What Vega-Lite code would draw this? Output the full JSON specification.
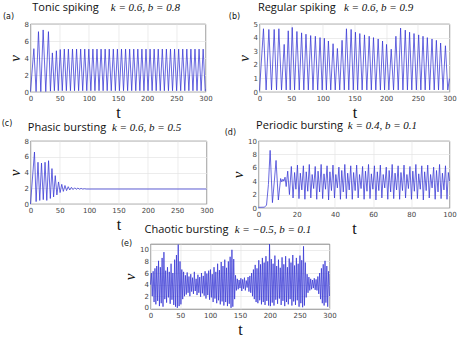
{
"$schema": "https://vega.github.io/schema/vega-lite/v6.json",
"padding": {"left": 1, "top": 1, "right": 0, "bottom": 0},
"config": {
 "view": {"stroke": "#555", "strokeWidth": 0.7},
 "style": {"guide-title": {"font": "Liberation Serif", "fontWeight": "normal", "fill": "#111"}},
 "axis": {"labelFont": "DejaVu Sans", "labelFontSize": 7, "labelColor": "#444", "gridColor": "#e4e4e4", "gridWidth": 0.7, "domain": false, "ticks": false, "labelPadding": 2, "labelFlush": false, "labelOverlap": false, "titleFont": "Liberation Serif", "titleFontWeight": "normal", "titleColor": "#111"},
 "axisX": {"titleFontSize": 16, "titlePadding": 3},
 "axisY": {"titleFontSize": 15, "titleFontStyle": "italic", "titlePadding": 2},
 "line": {"color": "#3636d4", "strokeWidth": 0.75},
 "text": {"align": "center", "baseline": "middle"}
},
"datasets": {
 "a": [{"t":0,"v":0.05},{"t":5.8,"v":5.1},{"t":9.6,"v":0.05},{"t":13.7,"v":7.1},{"t":17.7,"v":0.05},{"t":21.7,"v":7.3},{"t":26.2,"v":0.05},{"t":30.8,"v":7.1},{"t":34.2,"v":0.1},{"t":37.5,"v":4.6},{"t":41,"v":0.15},{"t":44.4,"v":4.85},{"t":47.7,"v":0.15},{"t":51,"v":5.0},{"t":54.5,"v":0.15},{"t":58,"v":5.05},{"t":61.5,"v":0.15},{"t":65,"v":5.05},{"t":68.5,"v":0.15},{"t":72,"v":5.05},{"t":75.5,"v":0.15},{"t":79,"v":5.05},{"t":82.5,"v":0.15},{"t":86,"v":5.05},{"t":89.5,"v":0.15},{"t":93,"v":5.05},{"t":96.5,"v":0.15},{"t":100,"v":5.05},{"t":103.5,"v":0.15},{"t":107,"v":5.05},{"t":110.5,"v":0.15},{"t":114,"v":5.05},{"t":117.5,"v":0.15},{"t":121,"v":5.05},{"t":124.5,"v":0.15},{"t":128,"v":5.05},{"t":131.5,"v":0.15},{"t":135,"v":5.05},{"t":138.5,"v":0.15},{"t":142,"v":5.05},{"t":145.5,"v":0.15},{"t":149,"v":5.05},{"t":152.5,"v":0.15},{"t":156,"v":5.05},{"t":159.5,"v":0.15},{"t":163,"v":5.05},{"t":166.5,"v":0.15},{"t":170,"v":5.05},{"t":173.5,"v":0.15},{"t":177,"v":5.05},{"t":180.5,"v":0.15},{"t":184,"v":5.05},{"t":187.5,"v":0.15},{"t":191,"v":5.05},{"t":194.5,"v":0.15},{"t":198,"v":5.05},{"t":201.5,"v":0.15},{"t":205,"v":5.05},{"t":208.5,"v":0.15},{"t":212,"v":5.05},{"t":215.5,"v":0.15},{"t":219,"v":5.05},{"t":222.5,"v":0.15},{"t":226,"v":5.05},{"t":229.5,"v":0.15},{"t":233,"v":5.05},{"t":236.5,"v":0.15},{"t":240,"v":5.05},{"t":243.5,"v":0.15},{"t":247,"v":5.05},{"t":250.5,"v":0.15},{"t":254,"v":5.05},{"t":257.5,"v":0.15},{"t":261,"v":5.05},{"t":264.5,"v":0.15},{"t":268,"v":5.05},{"t":271.5,"v":0.15},{"t":275,"v":5.05},{"t":278.5,"v":0.15},{"t":282,"v":5.05},{"t":285.5,"v":0.15},{"t":289,"v":5.05},{"t":292.5,"v":0.15},{"t":296,"v":5.05},{"t":299.5,"v":0.15},{"t":300,"v":0.3}],
 "b": [{"t":0,"v":0.1},{"t":6.3,"v":4.65},{"t":10.5,"v":0.15},{"t":14.8,"v":4.6},{"t":19,"v":0.15},{"t":23.2,"v":4.6},{"t":26.9,"v":0.15},{"t":30.6,"v":4.65},{"t":34.8,"v":0.15},{"t":39,"v":3.5},{"t":42.2,"v":0.15},{"t":45.4,"v":4.5},{"t":48.5,"v":0.15},{"t":51.7,"v":4.75},{"t":55.4,"v":0.15},{"t":59.1,"v":4.45},{"t":62.8,"v":0.15},{"t":66.5,"v":4.35},{"t":70,"v":0.15},{"t":73.4,"v":4.25},{"t":77.1,"v":0.15},{"t":80.8,"v":4.15},{"t":84.5,"v":0.15},{"t":88.2,"v":4.1},{"t":91.9,"v":0.15},{"t":95.6,"v":4.0},{"t":99,"v":0.15},{"t":102.4,"v":3.95},{"t":105.6,"v":0.15},{"t":108.8,"v":3.75},{"t":112.5,"v":0.15},{"t":116.2,"v":3.55},{"t":119.6,"v":0.15},{"t":123,"v":3.2},{"t":126.7,"v":0.15},{"t":130.4,"v":3.8},{"t":133.9,"v":0.15},{"t":137.3,"v":4.65},{"t":141,"v":0.15},{"t":144.7,"v":4.6},{"t":148.1,"v":0.15},{"t":151.5,"v":4.4},{"t":155,"v":0.15},{"t":158.4,"v":4.3},{"t":162.1,"v":0.15},{"t":165.8,"v":4.2},{"t":169.5,"v":0.15},{"t":173.2,"v":4.1},{"t":176.6,"v":0.15},{"t":180,"v":4.0},{"t":183.7,"v":0.15},{"t":187.4,"v":3.9},{"t":190.9,"v":0.15},{"t":194.3,"v":3.75},{"t":197.5,"v":0.15},{"t":200.6,"v":3.5},{"t":204.3,"v":0.15},{"t":208,"v":3.15},{"t":211.7,"v":0.15},{"t":215.4,"v":4.1},{"t":219.1,"v":0.15},{"t":222.8,"v":4.7},{"t":226.5,"v":0.15},{"t":230.2,"v":4.55},{"t":233.6,"v":0.15},{"t":237,"v":4.4},{"t":240.5,"v":0.15},{"t":244,"v":4.3},{"t":247.7,"v":0.15},{"t":251.3,"v":4.2},{"t":254.8,"v":0.15},{"t":258.2,"v":4.1},{"t":261.6,"v":0.15},{"t":265,"v":4.0},{"t":268.7,"v":0.15},{"t":272.4,"v":3.9},{"t":275.9,"v":0.15},{"t":279.3,"v":3.8},{"t":282.7,"v":0.15},{"t":286,"v":3.6},{"t":289.8,"v":0.15},{"t":293.6,"v":3.4},{"t":297.3,"v":0.15},{"t":300,"v":1.0}],
 "c": [{"t":0,"v":0},{"t":6.8,"v":6.6},{"t":9.6,"v":0.3},{"t":12.8,"v":5.3},{"t":15.8,"v":0.45},{"t":18.8,"v":5.2},{"t":21.8,"v":0.55},{"t":24.8,"v":5.3},{"t":27.8,"v":0.45},{"t":30.8,"v":5.5},{"t":33.8,"v":0.7},{"t":36.6,"v":4.5},{"t":39.4,"v":0.9},{"t":42.2,"v":3.6},{"t":45,"v":1.15},{"t":47.8,"v":2.8},{"t":50.5,"v":1.45},{"t":53.3,"v":2.5},{"t":56,"v":1.6},{"t":58.8,"v":2.35},{"t":61.5,"v":1.7},{"t":64.3,"v":2.2},{"t":67,"v":1.78},{"t":69.8,"v":2.12},{"t":72.5,"v":1.83},{"t":75.3,"v":2.06},{"t":78,"v":1.86},{"t":80.8,"v":2.02},{"t":83.5,"v":1.88},{"t":86.3,"v":1.98},{"t":89,"v":1.89},{"t":92,"v":1.94},{"t":95,"v":1.9},{"t":300,"v":1.9}],
 "d": [{"t":0,"v":0.1},{"t":3,"v":0.12},{"t":4.2,"v":0.4},{"t":5.2,"v":3.5},{"t":6.1,"v":8.6},{"t":7.3,"v":0.8},{"t":8.3,"v":4.0},{"t":9.2,"v":7.1},{"t":10.4,"v":1.2},{"t":11.6,"v":4.4},{"t":12.2,"v":3.9},{"t":12.8,"v":4.3},{"t":13.3,"v":4.0},{"t":13.9,"v":4.6},{"t":14.5,"v":3.2},{"t":15.3,"v":5.5},{"t":16.2,"v":2.0},{"t":17.2,"v":6.2},{"t":18.1,"v":1.5},{"t":18.9,"v":5.3},{"t":19.6,"v":2.8},
  {"t":20.4,"v":6.4},{"t":21.2,"v":1.4},{"t":21.9,"v":5.2},{"t":22.7,"v":2.7},
  {"t":23.5,"v":6.3},{"t":24.3,"v":1.3},{"t":25.0,"v":5.4},{"t":25.8,"v":2.5},
  {"t":26.6,"v":6.5},{"t":27.4,"v":1.5},{"t":28.1,"v":5.0},{"t":28.9,"v":2.9},
  {"t":29.7,"v":6.2},{"t":30.5,"v":1.3},{"t":31.2,"v":5.5},{"t":32.0,"v":2.4},
  {"t":32.8,"v":6.5},{"t":33.6,"v":1.4},{"t":34.3,"v":5.1},{"t":35.1,"v":2.8},
  {"t":35.9,"v":6.3},{"t":36.7,"v":1.2},{"t":37.4,"v":5.4},{"t":38.2,"v":2.6},
  {"t":39.0,"v":6.4},{"t":39.8,"v":1.5},{"t":40.5,"v":5.0},{"t":41.3,"v":3.0},
  {"t":42.1,"v":6.1},{"t":42.9,"v":1.3},{"t":43.6,"v":5.6},{"t":44.4,"v":2.4},
  {"t":45.2,"v":6.5},{"t":46.0,"v":1.4},{"t":46.7,"v":5.2},{"t":47.5,"v":2.7},
  {"t":48.3,"v":6.3},{"t":49.1,"v":1.3},{"t":49.8,"v":5.3},{"t":50.6,"v":2.6},
  {"t":51.4,"v":6.4},{"t":52.2,"v":1.5},{"t":52.9,"v":5.0},{"t":53.7,"v":2.9},
  {"t":54.5,"v":6.2},{"t":55.3,"v":1.3},{"t":56.0,"v":5.5},{"t":56.8,"v":2.5},
  {"t":57.6,"v":6.5},{"t":58.4,"v":1.4},{"t":59.1,"v":5.1},{"t":59.9,"v":2.8},
  {"t":60.7,"v":6.3},{"t":61.5,"v":1.2},{"t":62.2,"v":5.4},{"t":63.0,"v":2.6},
  {"t":63.8,"v":6.4},{"t":64.6,"v":1.5},{"t":65.3,"v":5.0},{"t":66.1,"v":3.0},
  {"t":66.9,"v":6.1},{"t":67.7,"v":1.3},{"t":68.4,"v":5.6},{"t":69.2,"v":2.4},
  {"t":70.0,"v":6.5},{"t":70.8,"v":1.4},{"t":71.5,"v":5.2},{"t":72.3,"v":2.7},
  {"t":73.1,"v":6.3},{"t":73.9,"v":1.3},{"t":74.6,"v":5.3},{"t":75.4,"v":2.6},
  {"t":76.2,"v":6.4},{"t":77.0,"v":1.5},{"t":77.7,"v":5.0},{"t":78.5,"v":2.9},
  {"t":79.3,"v":6.2},{"t":80.1,"v":1.3},{"t":80.8,"v":5.5},{"t":81.6,"v":2.5},
  {"t":82.4,"v":6.5},{"t":83.2,"v":1.4},{"t":83.9,"v":5.1},{"t":84.7,"v":2.8},
  {"t":85.5,"v":6.3},{"t":86.3,"v":1.2},{"t":87.0,"v":5.4},{"t":87.8,"v":2.6},
  {"t":88.6,"v":6.4},{"t":89.4,"v":1.5},{"t":90.1,"v":5.0},{"t":90.9,"v":3.0},
  {"t":91.7,"v":6.1},{"t":92.5,"v":1.3},{"t":93.2,"v":5.6},{"t":94.0,"v":2.4},
  {"t":94.8,"v":6.5},{"t":95.6,"v":1.4},{"t":96.3,"v":5.2},{"t":97.1,"v":2.7},
  {"t":97.9,"v":6.3},{"t":98.7,"v":1.3},{"t":99.4,"v":5.3},{"t":100,"v":4.0}],
 "e": [{"t":0,"v":4.0},{"t":1.5,"v":6.0},{"t":3,"v":2.0},{"t":4.5,"v":6.3},{"t":6,"v":1.0},{"t":7.5,"v":6.8},{"t":9,"v":0.6},{"t":10.5,"v":7.2},{"t":12,"v":1.2},{"t":13.5,"v":8.1},{"t":15,"v":0.3},{"t":16.5,"v":7.0},{"t":18,"v":0.8},{"t":19.5,"v":8.6},{"t":21,"v":0.2},{"t":22.5,"v":9.6},{"t":24,"v":1.5},{"t":25.5,"v":6.4},{"t":27,"v":0.9},{"t":28.5,"v":7.0},{"t":30,"v":1.8},{"t":31.5,"v":6.2},{"t":33,"v":0.7},{"t":34.5,"v":7.6},{"t":36,"v":1.4},{"t":37.5,"v":6.0},{"t":39,"v":0.5},{"t":40.5,"v":8.3},{"t":42,"v":0.2},{"t":43.5,"v":9.1},{"t":45,"v":0.0},{"t":46.5,"v":10.9},{"t":48,"v":0.3},{"t":49.5,"v":8.0},{"t":51,"v":0.6},{"t":52.5,"v":6.6},{"t":54,"v":1.5},{"t":55.5,"v":6.2},{"t":57,"v":2.0},{"t":58.5,"v":5.6},{"t":60,"v":2.3},{"t":61.5,"v":6.1},{"t":63,"v":2.6},{"t":64.5,"v":5.4},{"t":66,"v":2.0},{"t":67.5,"v":5.8},{"t":69,"v":2.8},{"t":70.5,"v":5.2},{"t":72,"v":2.4},{"t":73.5,"v":6.2},{"t":75,"v":2.9},{"t":76.5,"v":5.0},{"t":78,"v":2.2},{"t":79.5,"v":5.7},{"t":81,"v":2.6},{"t":82.5,"v":5.3},{"t":84,"v":1.9},{"t":85.5,"v":6.0},{"t":87,"v":2.5},{"t":88.5,"v":5.5},{"t":90,"v":2.1},{"t":91.5,"v":6.3},{"t":93,"v":1.6},{"t":94.5,"v":5.9},{"t":96,"v":2.2},{"t":97.5,"v":6.4},{"t":99,"v":1.4},{"t":100.5,"v":6.6},{"t":102,"v":1.8},{"t":103.5,"v":5.8},{"t":105,"v":1.0},{"t":106.5,"v":7.0},{"t":108,"v":1.6},{"t":109.5,"v":6.2},{"t":111,"v":0.8},{"t":112.5,"v":7.6},{"t":114,"v":1.3},{"t":115.5,"v":6.5},{"t":117,"v":0.6},{"t":118.5,"v":7.9},{"t":120,"v":1.1},{"t":121.5,"v":7.2},{"t":123,"v":0.4},{"t":124.5,"v":8.3},{"t":126,"v":1.0},{"t":127.5,"v":6.9},{"t":129,"v":0.3},{"t":130.5,"v":8.0},{"t":132,"v":0.7},{"t":133.5,"v":8.8},{"t":135,"v":0.0},{"t":136.5,"v":10.0},{"t":138,"v":0.2},{"t":139.5,"v":8.4},{"t":141,"v":1.5},{"t":142.5,"v":5.6},{"t":144,"v":3.0},{"t":145.5,"v":5.0},{"t":147,"v":3.2},{"t":148.5,"v":4.8},{"t":150,"v":3.4},{"t":151.5,"v":5.1},{"t":153,"v":2.9},{"t":154.5,"v":4.9},{"t":156,"v":3.3},{"t":157.5,"v":5.2},{"t":159,"v":3.0},{"t":160.5,"v":4.7},{"t":162,"v":3.5},{"t":163.5,"v":5.3},{"t":165,"v":2.8},{"t":166.5,"v":5.5},{"t":168,"v":2.6},{"t":169.5,"v":6.0},{"t":171,"v":2.0},{"t":172.5,"v":6.6},{"t":174,"v":1.5},{"t":175.5,"v":7.4},{"t":177,"v":1.0},{"t":178.5,"v":6.8},{"t":180,"v":0.8},{"t":181.5,"v":8.2},{"t":183,"v":1.3},{"t":184.5,"v":7.5},{"t":186,"v":0.6},{"t":187.5,"v":8.6},{"t":189,"v":1.0},{"t":190.5,"v":7.8},{"t":192,"v":0.5},{"t":193.5,"v":8.9},{"t":195,"v":1.2},{"t":196.5,"v":8.0},{"t":198,"v":0.4},{"t":199.5,"v":11.0},{"t":201,"v":0.3},{"t":202.5,"v":8.4},{"t":204,"v":0.9},{"t":205.5,"v":7.6},{"t":207,"v":0.4},{"t":208.5,"v":9.0},{"t":210,"v":1.4},{"t":211.5,"v":7.2},{"t":213,"v":0.7},{"t":214.5,"v":8.3},{"t":216,"v":1.6},{"t":217.5,"v":6.9},{"t":219,"v":0.5},{"t":220.5,"v":8.7},{"t":222,"v":1.2},{"t":223.5,"v":7.5},{"t":225,"v":0.3},{"t":226.5,"v":8.9},{"t":228,"v":1.0},{"t":229.5,"v":7.0},{"t":231,"v":0.6},{"t":232.5,"v":8.5},{"t":234,"v":1.5},{"t":235.5,"v":7.8},{"t":237,"v":0.4},{"t":238.5,"v":9.1},{"t":240,"v":1.1},{"t":241.5,"v":7.3},{"t":243,"v":0.5},{"t":244.5,"v":8.6},{"t":246,"v":1.3},{"t":247.5,"v":7.6},{"t":249,"v":0.2},{"t":250.5,"v":9.0},{"t":252,"v":0.8},{"t":253.5,"v":8.2},{"t":255,"v":0.1},{"t":256.5,"v":10.6},{"t":258,"v":0.4},{"t":259.5,"v":7.8},{"t":261,"v":1.8},{"t":262.5,"v":5.8},{"t":264,"v":2.6},{"t":265.5,"v":5.3},{"t":267,"v":3.0},{"t":268.5,"v":5.0},{"t":270,"v":3.2},{"t":271.5,"v":4.8},{"t":273,"v":3.4},{"t":274.5,"v":5.1},{"t":276,"v":3.1},{"t":277.5,"v":4.9},{"t":279,"v":3.0},{"t":280.5,"v":5.4},{"t":282,"v":2.4},{"t":283.5,"v":6.0},{"t":285,"v":1.5},{"t":286.5,"v":6.8},{"t":288,"v":0.8},{"t":289.5,"v":7.5},{"t":291,"v":0.4},{"t":292.5,"v":8.1},{"t":294,"v":0.9},{"t":295.5,"v":7.2},{"t":297,"v":0.2},{"t":298.5,"v":6.3},{"t":300,"v":2.0}]
},
"vconcat": [
 {"vconcat": [
 {"hconcat": [
  {"width": 175, "height": 68, "layer": [
   {"data": {"name": "a"}, "mark": "line", "encoding": {
    "x": {"field": "t", "type": "quantitative", "scale": {"domain": [0, 300], "nice": false, "zero": false}, "axis": {"values": [0,50,100,150,200,250,300], "title": "t", "titleFont": "Liberation Serif", "titleFontWeight": "normal"}},
    "y": {"field": "v", "type": "quantitative", "scale": {"domain": [0, 8], "nice": false, "zero": false}, "axis": {"values": [0,2,4,6,8], "title": "v", "titleFont": "Liberation Serif", "titleFontWeight": "normal", "titleFontStyle": "italic"}}}},
   {"data": {"values": [{}]}, "mark": {"type": "text", "font": "Open Sans", "fontSize": 11, "color": "#111"}, "encoding": {"x": {"datum": 60, "type": "quantitative", "scale": {"domain": [0, 300], "nice": false, "zero": false}, "axis": {"values": [0,50,100,150,200,250,300], "title": "t", "titleFont": "Liberation Serif", "titleFontWeight": "normal"}}, "y": {"datum": 9.94, "type": "quantitative", "scale": {"domain": [0, 8], "nice": false, "zero": false}, "axis": {"values": [0,2,4,6,8], "title": "v", "titleFont": "Liberation Serif", "titleFontWeight": "normal", "titleFontStyle": "italic"}}, "text": {"value": "Tonic spiking"}}},
   {"data": {"values": [{}]}, "mark": {"type": "text", "font": "Liberation Serif", "fontSize": 11, "fontStyle": "italic", "color": "#111"}, "encoding": {"x": {"datum": 197, "type": "quantitative", "scale": {"domain": [0, 300], "nice": false, "zero": false}, "axis": {"values": [0,50,100,150,200,250,300], "title": "t", "titleFont": "Liberation Serif", "titleFontWeight": "normal"}}, "y": {"datum": 9.94, "type": "quantitative", "scale": {"domain": [0, 8], "nice": false, "zero": false}, "axis": {"values": [0,2,4,6,8], "title": "v", "titleFont": "Liberation Serif", "titleFontWeight": "normal", "titleFontStyle": "italic"}}, "text": {"value": "k = 0.6, b = 0.8"}}},
   {"data": {"values": [{}]}, "mark": {"type": "text", "font": "DejaVu Sans", "fontSize": 8, "color": "#111"}, "encoding": {"x": {"datum": -37.7, "type": "quantitative", "scale": {"domain": [0, 300], "nice": false, "zero": false}, "axis": {"values": [0,50,100,150,200,250,300], "title": "t", "titleFont": "Liberation Serif", "titleFontWeight": "normal"}}, "y": {"datum": 8.8, "type": "quantitative", "scale": {"domain": [0, 8], "nice": false, "zero": false}, "axis": {"values": [0,2,4,6,8], "title": "v", "titleFont": "Liberation Serif", "titleFontWeight": "normal", "titleFontStyle": "italic"}}, "text": {"value": "(a)"}}}
  ]},
  {"width": 190, "height": 68, "layer": [
   {"data": {"name": "b"}, "mark": "line", "encoding": {
    "x": {"field": "t", "type": "quantitative", "scale": {"domain": [0, 300], "nice": false, "zero": false}, "axis": {"values": [0,50,100,150,200,250,300], "title": "t", "titleFont": "Liberation Serif", "titleFontWeight": "normal"}},
    "y": {"field": "v", "type": "quantitative", "scale": {"domain": [0, 5], "nice": false, "zero": false}, "axis": {"values": [0,1,2,3,4,5], "title": "v", "titleFont": "Liberation Serif", "titleFontWeight": "normal", "titleFontStyle": "italic"}}}},
   {"data": {"values": [{}]}, "mark": {"type": "text", "font": "Open Sans", "fontSize": 11, "color": "#111"}, "encoding": {"x": {"datum": 59, "type": "quantitative", "scale": {"domain": [0, 300], "nice": false, "zero": false}, "axis": {"values": [0,50,100,150,200,250,300], "title": "t", "titleFont": "Liberation Serif", "titleFontWeight": "normal"}}, "y": {"datum": 6.2, "type": "quantitative", "scale": {"domain": [0, 5], "nice": false, "zero": false}, "axis": {"values": [0,1,2,3,4,5], "title": "v", "titleFont": "Liberation Serif", "titleFontWeight": "normal", "titleFontStyle": "italic"}}, "text": {"value": "Regular spiking"}}},
   {"data": {"values": [{}]}, "mark": {"type": "text", "font": "Liberation Serif", "fontSize": 11, "fontStyle": "italic", "color": "#111"}, "encoding": {"x": {"datum": 188, "type": "quantitative", "scale": {"domain": [0, 300], "nice": false, "zero": false}, "axis": {"values": [0,50,100,150,200,250,300], "title": "t", "titleFont": "Liberation Serif", "titleFontWeight": "normal"}}, "y": {"datum": 6.2, "type": "quantitative", "scale": {"domain": [0, 5], "nice": false, "zero": false}, "axis": {"values": [0,1,2,3,4,5], "title": "v", "titleFont": "Liberation Serif", "titleFontWeight": "normal", "titleFontStyle": "italic"}}, "text": {"value": "k = 0.6, b = 0.9"}}},
   {"data": {"values": [{}]}, "mark": {"type": "text", "font": "DejaVu Sans", "fontSize": 8, "color": "#111"}, "encoding": {"x": {"datum": -39.5, "type": "quantitative", "scale": {"domain": [0, 300], "nice": false, "zero": false}, "axis": {"values": [0,50,100,150,200,250,300], "title": "t", "titleFont": "Liberation Serif", "titleFontWeight": "normal"}}, "y": {"datum": 5.51, "type": "quantitative", "scale": {"domain": [0, 5], "nice": false, "zero": false}, "axis": {"values": [0,1,2,3,4,5], "title": "v", "titleFont": "Liberation Serif", "titleFontWeight": "normal", "titleFontStyle": "italic"}}, "text": {"value": "(b)"}}}
  ]}
 ], "spacing": 54, "bounds": "flush"},
 {"hconcat": [
  {"width": 176, "height": 63, "layer": [
   {"data": {"name": "c"}, "mark": "line", "encoding": {
    "x": {"field": "t", "type": "quantitative", "scale": {"domain": [0, 300], "nice": false, "zero": false}, "axis": {"values": [0,50,100,150,200,250,300], "title": "t", "titleFont": "Liberation Serif", "titleFontWeight": "normal"}},
    "y": {"field": "v", "type": "quantitative", "scale": {"domain": [0, 8], "nice": false, "zero": false}, "axis": {"values": [0,2,4,6,8], "title": "v", "titleFont": "Liberation Serif", "titleFontWeight": "normal", "titleFontStyle": "italic"}}}},
   {"data": {"values": [{}]}, "mark": {"type": "text", "font": "Open Sans", "fontSize": 11, "color": "#111"}, "encoding": {"x": {"datum": 62.2, "type": "quantitative", "scale": {"domain": [0, 300], "nice": false, "zero": false}, "axis": {"values": [0,50,100,150,200,250,300], "title": "t", "titleFont": "Liberation Serif", "titleFontWeight": "normal"}}, "y": {"datum": 9.65, "type": "quantitative", "scale": {"domain": [0, 8], "nice": false, "zero": false}, "axis": {"values": [0,2,4,6,8], "title": "v", "titleFont": "Liberation Serif", "titleFontWeight": "normal", "titleFontStyle": "italic"}}, "text": {"value": "Phasic bursting"}}},
   {"data": {"values": [{}]}, "mark": {"type": "text", "font": "Liberation Serif", "fontSize": 11, "fontStyle": "italic", "color": "#111"}, "encoding": {"x": {"datum": 197.8, "type": "quantitative", "scale": {"domain": [0, 300], "nice": false, "zero": false}, "axis": {"values": [0,50,100,150,200,250,300], "title": "t", "titleFont": "Liberation Serif", "titleFontWeight": "normal"}}, "y": {"datum": 9.65, "type": "quantitative", "scale": {"domain": [0, 8], "nice": false, "zero": false}, "axis": {"values": [0,2,4,6,8], "title": "v", "titleFont": "Liberation Serif", "titleFontWeight": "normal", "titleFontStyle": "italic"}}, "text": {"value": "k = 0.6, b = 0.5"}}},
   {"data": {"values": [{}]}, "mark": {"type": "text", "font": "DejaVu Sans", "fontSize": 8, "color": "#111"}, "encoding": {"x": {"datum": -40, "type": "quantitative", "scale": {"domain": [0, 300], "nice": false, "zero": false}, "axis": {"values": [0,50,100,150,200,250,300], "title": "t", "titleFont": "Liberation Serif", "titleFontWeight": "normal"}}, "y": {"datum": 10.16, "type": "quantitative", "scale": {"domain": [0, 8], "nice": false, "zero": false}, "axis": {"values": [0,2,4,6,8], "title": "v", "titleFont": "Liberation Serif", "titleFontWeight": "normal", "titleFontStyle": "italic"}}, "text": {"value": "(c)"}}}
  ]},
  {"width": 191, "height": 67, "layer": [
   {"data": {"name": "d"}, "mark": "line", "encoding": {
    "x": {"field": "t", "type": "quantitative", "scale": {"domain": [0, 100], "nice": false, "zero": false}, "axis": {"values": [0,20,40,60,80,100], "title": "t", "titleFont": "Liberation Serif", "titleFontWeight": "normal"}},
    "y": {"field": "v", "type": "quantitative", "scale": {"domain": [0, 10], "nice": false, "zero": false}, "axis": {"values": [0,2,4,6,8,10], "title": "v", "titleFont": "Liberation Serif", "titleFontWeight": "normal", "titleFontStyle": "italic"}}}},
   {"data": {"values": [{}]}, "mark": {"type": "text", "font": "Open Sans", "fontSize": 11, "color": "#111"}, "encoding": {"x": {"datum": 21.5, "type": "quantitative", "scale": {"domain": [0, 100], "nice": false, "zero": false}, "axis": {"values": [0,20,40,60,80,100], "title": "t", "titleFont": "Liberation Serif", "titleFontWeight": "normal"}}, "y": {"datum": 12.24, "type": "quantitative", "scale": {"domain": [0, 10], "nice": false, "zero": false}, "axis": {"values": [0,2,4,6,8,10], "title": "v", "titleFont": "Liberation Serif", "titleFontWeight": "normal", "titleFontStyle": "italic"}}, "text": {"value": "Periodic bursting"}}},
   {"data": {"values": [{}]}, "mark": {"type": "text", "font": "Liberation Serif", "fontSize": 11, "fontStyle": "italic", "color": "#111"}, "encoding": {"x": {"datum": 64.9, "type": "quantitative", "scale": {"domain": [0, 100], "nice": false, "zero": false}, "axis": {"values": [0,20,40,60,80,100], "title": "t", "titleFont": "Liberation Serif", "titleFontWeight": "normal"}}, "y": {"datum": 12.24, "type": "quantitative", "scale": {"domain": [0, 10], "nice": false, "zero": false}, "axis": {"values": [0,2,4,6,8,10], "title": "v", "titleFont": "Liberation Serif", "titleFontWeight": "normal", "titleFontStyle": "italic"}}, "text": {"value": "k = 0.4, b = 0.1"}}},
   {"data": {"values": [{}]}, "mark": {"type": "text", "font": "DejaVu Sans", "fontSize": 8, "color": "#111"}, "encoding": {"x": {"datum": -14.7, "type": "quantitative", "scale": {"domain": [0, 100], "nice": false, "zero": false}, "axis": {"values": [0,20,40,60,80,100], "title": "t", "titleFont": "Liberation Serif", "titleFontWeight": "normal"}}, "y": {"datum": 11.2, "type": "quantitative", "scale": {"domain": [0, 10], "nice": false, "zero": false}, "axis": {"values": [0,2,4,6,8,10], "title": "v", "titleFont": "Liberation Serif", "titleFontWeight": "normal", "titleFontStyle": "italic"}}, "text": {"value": "(d)"}}}
  ]}
 ], "spacing": 52, "bounds": "flush"}
 ], "spacing": -2},
 {"width": 179, "height": 65, "layer": [
   {"data": {"name": "e"}, "mark": "line", "encoding": {
    "x": {"field": "t", "type": "quantitative", "scale": {"domain": [0, 300], "nice": false, "zero": false}, "axis": {"values": [0,50,100,150,200,250,300], "title": "t", "titleFont": "Liberation Serif", "titleFontWeight": "normal"}},
    "y": {"field": "v", "type": "quantitative", "scale": {"domain": [-0.2, 11], "nice": false, "zero": false}, "axis": {"values": [0,2,4,6,8,10], "title": "v", "titleFont": "Liberation Serif", "titleFontWeight": "normal", "titleFontStyle": "italic"}}}},
   {"data": {"values": [{}]}, "mark": {"type": "text", "font": "Open Sans", "fontSize": 11, "color": "#111"}, "encoding": {"x": {"datum": 60.3, "type": "quantitative", "scale": {"domain": [0, 300], "nice": false, "zero": false}, "axis": {"values": [0,50,100,150,200,250,300], "title": "t", "titleFont": "Liberation Serif", "titleFontWeight": "normal"}}, "y": {"datum": 13.4, "type": "quantitative", "scale": {"domain": [-0.2, 11], "nice": false, "zero": false}, "axis": {"values": [0,2,4,6,8,10], "title": "v", "titleFont": "Liberation Serif", "titleFontWeight": "normal", "titleFontStyle": "italic"}}, "text": {"value": "Chaotic bursting"}}},
   {"data": {"values": [{}]}, "mark": {"type": "text", "font": "Liberation Serif", "fontSize": 11, "fontStyle": "italic", "color": "#111"}, "encoding": {"x": {"datum": 205.3, "type": "quantitative", "scale": {"domain": [0, 300], "nice": false, "zero": false}, "axis": {"values": [0,50,100,150,200,250,300], "title": "t", "titleFont": "Liberation Serif", "titleFontWeight": "normal"}}, "y": {"datum": 13.4, "type": "quantitative", "scale": {"domain": [-0.2, 11], "nice": false, "zero": false}, "axis": {"values": [0,2,4,6,8,10], "title": "v", "titleFont": "Liberation Serif", "titleFontWeight": "normal", "titleFontStyle": "italic"}}, "text": {"value": "k = −0.5, b = 0.1"}}},
   {"data": {"values": [{}]}, "mark": {"type": "text", "font": "DejaVu Sans", "fontSize": 8, "color": "#111"}, "encoding": {"x": {"datum": -40.2, "type": "quantitative", "scale": {"domain": [0, 300], "nice": false, "zero": false}, "axis": {"values": [0,50,100,150,200,250,300], "title": "t", "titleFont": "Liberation Serif", "titleFontWeight": "normal"}}, "y": {"datum": 11.0, "type": "quantitative", "scale": {"domain": [-0.2, 11], "nice": false, "zero": false}, "axis": {"values": [0,2,4,6,8,10], "title": "v", "titleFont": "Liberation Serif", "titleFontWeight": "normal", "titleFontStyle": "italic"}}, "text": {"value": "(e)"}}}
 ]}
],
"spacing": -14,
"center": true
}
